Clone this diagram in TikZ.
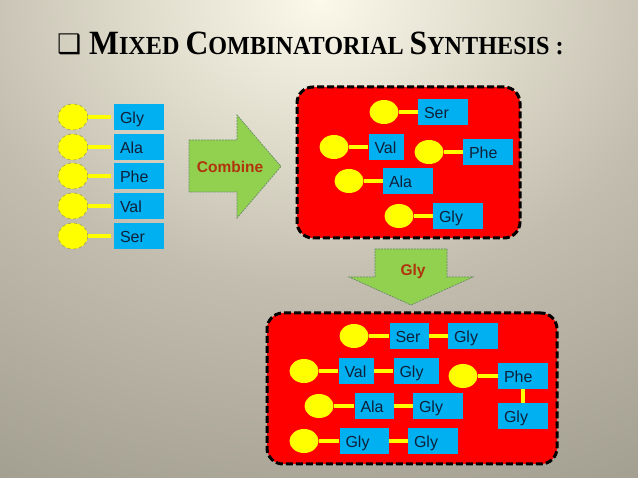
\documentclass[tikz,border=0pt]{standalone}
\usepackage{fontspec}
\setmainfont{Liberation Sans}
\newfontfamily\titlefont{Liberation Serif}[FakeStretch=0.93]
\newfontfamily\symfont{DejaVu Sans}
\usetikzlibrary{shapes.geometric}
\definecolor{beadyellow}{HTML}{FFFF00}
\definecolor{beadedge}{HTML}{9C9C5A}
\definecolor{aablue}{HTML}{00B0F0}
\definecolor{aatext}{HTML}{10203A}
\definecolor{poolred}{HTML}{FF0000}
\definecolor{arrowgreen}{HTML}{92D050}
\definecolor{arrowedge}{HTML}{6A8A6A}
\definecolor{labelred}{HTML}{B0340C}
\definecolor{bgA}{HTML}{FCF8EA}
\definecolor{bgB}{HTML}{E0DCCC}
\definecolor{bgC}{HTML}{C2BDAE}
\definecolor{bgD}{HTML}{9C988A}
\pgfdeclareradialshading{bgshade}{\pgfpoint{0bp}{0bp}}{color(0bp)=(bgA); color(6bp)=(bgB); color(12bp)=(bgC); color(25bp)=(bgD); color(50bp)=(bgD)}
\newcommand\tbig[1]{{\fontsize{34}{34}\selectfont #1}}
\newcommand\tsmall[1]{{\fontsize{26}{26}\selectfont #1}}
\tikzset{
  bead/.style={ellipse, fill=beadyellow, minimum width=29pt, minimum height=24pt, inner sep=0pt},
  beadL/.style={bead, draw=beadedge, dashed, line width=0.6pt, minimum width=30pt, minimum height=26pt},
  aabox/.style={fill=aablue, text=aatext, font=\fontsize{16}{16}\selectfont, minimum height=26pt,
     inner xsep=6pt, inner ysep=0pt, align=left, text width=#1, text height=14pt, text depth=1pt},
  stemline/.style={beadyellow, line width=4.5pt},
  pool/.style={rectangle, fill=poolred, draw=black, line width=3pt, dash pattern=on 7pt off 3pt, rounded corners=16pt},
  greenarrow/.style={fill=arrowgreen, draw=arrowedge, line width=0.7pt, dash pattern=on 2pt off 1pt},
  arrowlabel/.style={text=labelred, font=\bfseries\fontsize{15.5}{15.5}\selectfont, inner sep=0pt}
}
\begin{document}
\begin{tikzpicture}[x=1pt,y=-1pt]
\useasboundingbox (0,0) rectangle (638,478);
\begin{scope}
\clip (0,0) rectangle (638,478);
\shade[shading=bgshade] (319,0) ellipse [x radius=760pt, y radius=600pt];
\end{scope}

% title
\node[anchor=base west, inner sep=0pt, font=\symfont\fontsize{27}{27}\selectfont] (tbox) at (57,54) {❑};
\node[anchor=base west, inner sep=0pt, font=\titlefont\bfseries\fontsize{26}{26}\selectfont] (title) at (89,55)
  {\tbig{M}\tsmall{IXED} \tbig{C}\tsmall{OMBINATORIAL} \tbig{S}\tsmall{YNTHESIS} \tsmall{:}};

% left column
\foreach \nm/\yy [count=\i] in {Gly/117, Ala/147, Phe/176, Val/206, Ser/236} {
  \node[beadL] (le\i) at (73,\yy) {};
  \node[aabox=38pt] (lb\i) at (139,\yy) {\nm};
  \draw[stemline, shorten >=3pt] (le\i) -- (lb\i);
}

% combine arrow
\draw[greenarrow] (189,140) -- (237,140) -- (237,115) -- (281,166.5) -- (237,218) -- (237,192) -- (189,192) -- cycle;
\node[arrowlabel] (combine) at (230,167) {Combine};

% first pool
\node[pool, minimum width=223pt, minimum height=151pt] (pool1) at (408.5,162.5) {};
\node[bead] (e1) at (384,112) {};
\node[aabox=38pt] (b1) at (443,112) {Ser};
\node[bead] (e2) at (334,147) {};
\node[aabox=23pt] (b2) at (386,147) {Val};
\node[bead] (e3) at (429,152) {};
\node[aabox=38pt] (b3) at (488,152) {Phe};
\node[bead] (e4) at (349,181) {};
\node[aabox=38pt] (b4) at (408,181) {Ala};
\node[bead] (e5) at (399,216) {};
\node[aabox=38pt] (b5) at (458,216) {Gly};
\foreach \i in {1,...,5} { \draw[stemline] (e\i) -- (b\i); }

% Gly arrow
\draw[greenarrow] (375,249) -- (447,249) -- (447,277) -- (473,277) -- (411,305) -- (349,277) -- (375,277) -- cycle;
\node[arrowlabel] (glyadd) at (413,271) {Gly};

% second pool
\node[pool, minimum width=290pt, minimum height=151pt] (pool2) at (412,388.5) {};
\node[bead] (f1) at (354,336) {};
\node[aabox=27pt] (c1) at (409,336) {Ser};
\node[aabox=38pt] (d1) at (473,336) {Gly};
\node[bead] (f2) at (304,371) {};
\node[aabox=23pt] (c2) at (356,371) {Val};
\node[aabox=33pt] (d2) at (416,371) {Gly};
\node[bead] (f3) at (463,376) {};
\node[aabox=38pt] (c3) at (523,376) {Phe};
\node[aabox=38pt] (d3) at (523,416) {Gly};
\node[bead] (f4) at (319,406) {};
\node[aabox=27pt] (c4) at (374,406) {Ala};
\node[aabox=38pt] (d4) at (438,406) {Gly};
\node[bead] (f5) at (304,441) {};
\node[aabox=37pt] (c5) at (364,441) {Gly};
\node[aabox=38pt] (d5) at (433,441) {Gly};
\foreach \i in {1,...,5} { \draw[stemline] (f\i) -- (c\i); \draw[stemline] (c\i) -- (d\i); }
\end{tikzpicture}
\end{document}
